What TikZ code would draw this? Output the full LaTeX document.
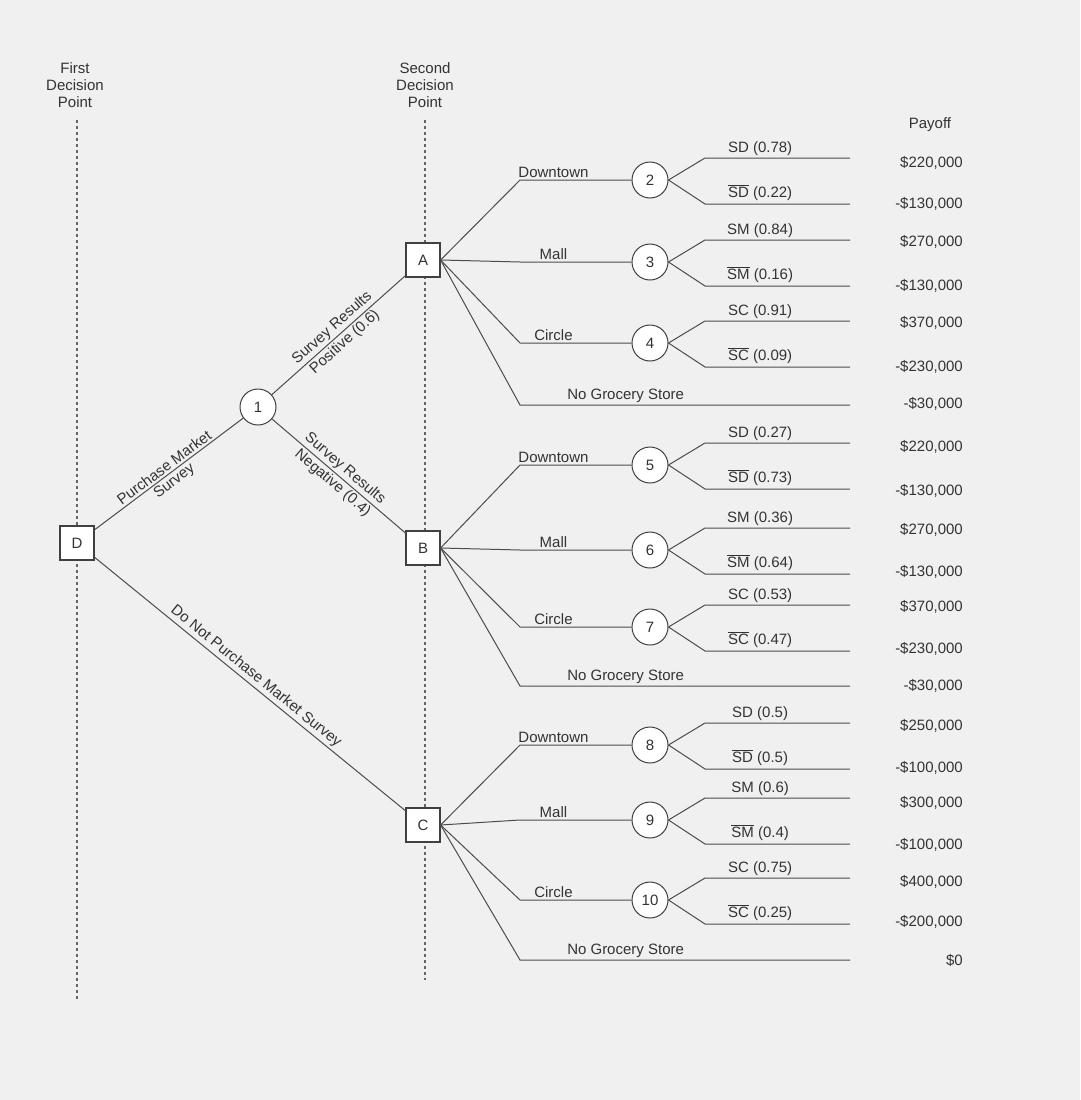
\documentclass[tikz,border=0pt]{standalone}
\usepackage{fontspec}
\setmainfont{Liberation Sans}
\begin{document}
\begin{tikzpicture}[x=1pt,y=-1pt,
  ln/.style={draw=black!70,line width=1pt},
  dec/.style={draw=black!75,line width=1.2pt,minimum size=34pt,inner sep=0pt,fill=white},
  chance/.style={circle,draw=black!75,line width=1pt,minimum size=36pt,inner sep=0pt,fill=white},
  txt/.style={font=\fontsize{15}{17}\selectfont,text=black!80,inner sep=2pt},
  guide/.style={draw=black!60,dashed,line width=1.3pt}]
\fill[black!6] (0,0) rectangle (1080,1100);
\useasboundingbox (0,0) rectangle (1080,1100);
\node[txt,align=center] (h1) at (75,85) {First\\Decision\\Point};
\node[txt,align=center] (h2) at (425,85) {Second\\Decision\\Point};
\node[txt] (pay) at (930,125) {Payoff};
\coordinate (g1t) at (77,120); \coordinate (g1b) at (77,1000);
\coordinate (g2t) at (425,120); \coordinate (g2b) at (425,980);
\draw[guide] (g1t) -- (g1b);
\draw[guide] (g2t) -- (g2b);
\node[dec,txt] (D) at (77,543) {D};
\node[chance,txt] (one) at (258,407) {1};
\node[dec,txt] (A) at (423,260) {A};
\node[dec,txt] (B) at (423,548) {B};
\node[dec,txt] (C) at (423,825) {C};
\draw[ln] (D) -- node[txt,sloped,above]{Purchase Market} node[txt,sloped,below]{Survey} (one);
\draw[ln] (one) -- node[txt,sloped,above]{Survey Results} node[txt,sloped,below]{Positive (0.6)} (A);
\draw[ln] (one) -- node[txt,sloped,above]{Survey Results} node[txt,sloped,below]{Negative (0.4)} (B);
\draw[ln] (D) -- node[txt,sloped,above,pos=0.5]{Do Not Purchase Market Survey} (C);
\foreach \L/\ca/\cb/\cc/\n/\na/\nb/\nc/\pa/\qa/\pb/\qb/\pc/\qc in {
  A/180/262/343/405/2/3/4/0.78/0.22/0.84/0.16/0.91/0.09,
  B/465/550/627/686/5/6/7/0.27/0.73/0.36/0.64/0.53/0.47,
  C/745/820/900/960/8/9/10/0.5/0.5/0.6/0.4/0.75/0.25}{
  \foreach \s/\c/\p/\q/\k/\nm in {SD/\ca/\pa/\qa/\na/Downtown, SM/\cb/\pb/\qb/\nb/Mall, SC/\cc/\pc/\qc/\nc/Circle}{
    \node[chance,txt] (c\k) at (650,\c) {\k};
    \coordinate (e\k) at (520,\c);
    \draw[ln] (\L.east) -- (e\k) -- node[txt,above,pos=0.3]{\nm} (c\k);
    \coordinate (ut\k) at (705,{\c-22}); \coordinate (uu\k) at (850,{\c-22});
    \coordinate (lt\k) at (705,{\c+24}); \coordinate (lu\k) at (850,{\c+24});
    \draw[ln] (c\k.east) -- (ut\k) -- node[txt,above,pos=0.38]{\s\ (\p)} (uu\k);
    \draw[ln] (c\k.east) -- (lt\k) -- node[txt,above,pos=0.38,yshift=1pt]{$\overline{\mbox{\s}}$ (\q)} (lu\k);
  }
  \coordinate (ne\L) at (520,\n); \coordinate (nn\L) at (850,\n);
  \draw[ln] (\L.east) -- (ne\L) -- node[txt,above,pos=0.32]{No Grocery Store} (nn\L);
}
\foreach \y/\v in {163/{\$220,000}, 204/{-\$130,000}, 242/{\$270,000}, 286/{-\$130,000}, 323/{\$370,000}, 367/{-\$230,000}, 404/{-\$30,000},
  447/{\$220,000}, 491/{-\$130,000}, 530/{\$270,000}, 572/{-\$130,000}, 607/{\$370,000}, 649/{-\$230,000}, 686/{-\$30,000},
  726/{\$250,000}, 768/{-\$100,000}, 803/{\$300,000}, 845/{-\$100,000}, 882/{\$400,000}, 922/{-\$200,000}, 960/{\$0}}{
  \node[txt,anchor=east] (p\y) at (965,\y) {\v};
}
\end{tikzpicture}
\end{document}
